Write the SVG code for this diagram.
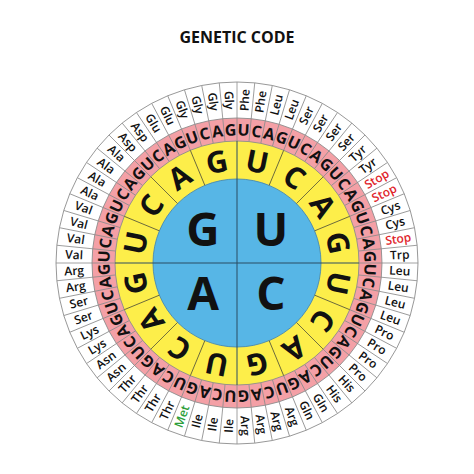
<svg xmlns="http://www.w3.org/2000/svg" xmlns:xlink="http://www.w3.org/1999/xlink" width="474" height="474" viewBox="0 0 474 474">
<style>
.title{font:700 16px "Open Sans","DejaVu Sans",sans-serif;text-anchor:middle;fill:#111}
.w{font:600 12px "Open Sans","DejaVu Sans",sans-serif;text-anchor:middle;fill:#111}
.p{font:700 16px "Open Sans","DejaVu Sans",sans-serif;text-anchor:middle;fill:#111}
.y{font:700 30px "Open Sans","DejaVu Sans",sans-serif;text-anchor:middle;fill:#111}
.b{font:700 46px "Open Sans","DejaVu Sans",sans-serif;text-anchor:middle;fill:#111}
.stop{fill:#e0252b}
.met{fill:#2e9e3a}
.ring{stroke:#8c8c8c;stroke-width:0.9}
.div{stroke:#8c8c8c;stroke-width:0.8}
.ydiv{stroke:#5a5a3a;stroke-width:0.8}
.cross{stroke:#2b4d63;stroke-width:1}
</style>
<defs>
<line id="d" class="div" x1="237" y1="82" x2="237" y2="141"/>
<line id="yd" class="ydiv" x1="237" y1="141" x2="237" y2="179"/>
</defs>
<rect width="474" height="474" fill="#fff"/>
<text class="title" x="237" y="43">GENETIC CODE</text>

<g id="rings">
<circle cx="237" cy="263" r="181" fill="#fff" class="ring"/>
<circle cx="237" cy="263" r="145" fill="#f4a0a6" class="ring"/>
<circle cx="237" cy="263" r="122" fill="#fdee4a" class="ring"/>
<circle cx="237" cy="263" r="84" fill="#57b6e6" stroke="#4a8ab0" stroke-width="0.9"/>
</g>

<g id="connectors">
<use xlink:href="#d" transform="rotate(0 237 263)"/>
<use xlink:href="#d" transform="rotate(5.625 237 263)"/>
<use xlink:href="#d" transform="rotate(11.25 237 263)"/>
<use xlink:href="#d" transform="rotate(16.875 237 263)"/>
<use xlink:href="#d" transform="rotate(22.5 237 263)"/>
<use xlink:href="#d" transform="rotate(28.125 237 263)"/>
<use xlink:href="#d" transform="rotate(33.75 237 263)"/>
<use xlink:href="#d" transform="rotate(39.375 237 263)"/>
<use xlink:href="#d" transform="rotate(45 237 263)"/>
<use xlink:href="#d" transform="rotate(50.625 237 263)"/>
<use xlink:href="#d" transform="rotate(56.25 237 263)"/>
<use xlink:href="#d" transform="rotate(61.875 237 263)"/>
<use xlink:href="#d" transform="rotate(67.5 237 263)"/>
<use xlink:href="#d" transform="rotate(73.125 237 263)"/>
<use xlink:href="#d" transform="rotate(78.75 237 263)"/>
<use xlink:href="#d" transform="rotate(84.375 237 263)"/>
<use xlink:href="#d" transform="rotate(90 237 263)"/>
<use xlink:href="#d" transform="rotate(95.625 237 263)"/>
<use xlink:href="#d" transform="rotate(101.25 237 263)"/>
<use xlink:href="#d" transform="rotate(106.875 237 263)"/>
<use xlink:href="#d" transform="rotate(112.5 237 263)"/>
<use xlink:href="#d" transform="rotate(118.125 237 263)"/>
<use xlink:href="#d" transform="rotate(123.75 237 263)"/>
<use xlink:href="#d" transform="rotate(129.375 237 263)"/>
<use xlink:href="#d" transform="rotate(135 237 263)"/>
<use xlink:href="#d" transform="rotate(140.625 237 263)"/>
<use xlink:href="#d" transform="rotate(146.25 237 263)"/>
<use xlink:href="#d" transform="rotate(151.875 237 263)"/>
<use xlink:href="#d" transform="rotate(157.5 237 263)"/>
<use xlink:href="#d" transform="rotate(163.125 237 263)"/>
<use xlink:href="#d" transform="rotate(168.75 237 263)"/>
<use xlink:href="#d" transform="rotate(174.375 237 263)"/>
<use xlink:href="#d" transform="rotate(180 237 263)"/>
<use xlink:href="#d" transform="rotate(185.625 237 263)"/>
<use xlink:href="#d" transform="rotate(191.25 237 263)"/>
<use xlink:href="#d" transform="rotate(196.875 237 263)"/>
<use xlink:href="#d" transform="rotate(202.5 237 263)"/>
<use xlink:href="#d" transform="rotate(208.125 237 263)"/>
<use xlink:href="#d" transform="rotate(213.75 237 263)"/>
<use xlink:href="#d" transform="rotate(219.375 237 263)"/>
<use xlink:href="#d" transform="rotate(225 237 263)"/>
<use xlink:href="#d" transform="rotate(230.625 237 263)"/>
<use xlink:href="#d" transform="rotate(236.25 237 263)"/>
<use xlink:href="#d" transform="rotate(241.875 237 263)"/>
<use xlink:href="#d" transform="rotate(247.5 237 263)"/>
<use xlink:href="#d" transform="rotate(253.125 237 263)"/>
<use xlink:href="#d" transform="rotate(258.75 237 263)"/>
<use xlink:href="#d" transform="rotate(264.375 237 263)"/>
<use xlink:href="#d" transform="rotate(270 237 263)"/>
<use xlink:href="#d" transform="rotate(275.625 237 263)"/>
<use xlink:href="#d" transform="rotate(281.25 237 263)"/>
<use xlink:href="#d" transform="rotate(286.875 237 263)"/>
<use xlink:href="#d" transform="rotate(292.5 237 263)"/>
<use xlink:href="#d" transform="rotate(298.125 237 263)"/>
<use xlink:href="#d" transform="rotate(303.75 237 263)"/>
<use xlink:href="#d" transform="rotate(309.375 237 263)"/>
<use xlink:href="#d" transform="rotate(315 237 263)"/>
<use xlink:href="#d" transform="rotate(320.625 237 263)"/>
<use xlink:href="#d" transform="rotate(326.25 237 263)"/>
<use xlink:href="#d" transform="rotate(331.875 237 263)"/>
<use xlink:href="#d" transform="rotate(337.5 237 263)"/>
<use xlink:href="#d" transform="rotate(343.125 237 263)"/>
<use xlink:href="#d" transform="rotate(348.75 237 263)"/>
<use xlink:href="#d" transform="rotate(354.375 237 263)"/>
<use xlink:href="#yd" transform="rotate(22.5 237 263)"/>
<use xlink:href="#yd" transform="rotate(45 237 263)"/>
<use xlink:href="#yd" transform="rotate(67.5 237 263)"/>
<use xlink:href="#yd" transform="rotate(112.5 237 263)"/>
<use xlink:href="#yd" transform="rotate(135 237 263)"/>
<use xlink:href="#yd" transform="rotate(157.5 237 263)"/>
<use xlink:href="#yd" transform="rotate(202.5 237 263)"/>
<use xlink:href="#yd" transform="rotate(225 237 263)"/>
<use xlink:href="#yd" transform="rotate(247.5 237 263)"/>
<use xlink:href="#yd" transform="rotate(292.5 237 263)"/>
<use xlink:href="#yd" transform="rotate(315 237 263)"/>
<use xlink:href="#yd" transform="rotate(337.5 237 263)"/>
<line class="cross" x1="237" y1="141" x2="237" y2="385"/>
<line class="cross" x1="115" y1="263" x2="359" y2="263"/>
</g>

<g id="center">
<text class="b" x="203" y="246">G</text>
<text class="b" x="271" y="246">U</text>
<text class="b" x="203" y="310">A</text>
<text class="b" x="271" y="310">C</text>
</g>

<g id="second-base">
<text class="y" x="237" y="170.5" transform="rotate(11.25 237 263)">U</text>
<text class="y" x="237" y="170.5" transform="rotate(33.75 237 263)">C</text>
<text class="y" x="237" y="170.5" transform="rotate(56.25 237 263)">A</text>
<text class="y" x="237" y="170.5" transform="rotate(78.75 237 263)">G</text>
<text class="y" x="237" y="170.5" transform="rotate(101.25 237 263)">U</text>
<text class="y" x="237" y="170.5" transform="rotate(123.75 237 263)">C</text>
<text class="y" x="237" y="170.5" transform="rotate(146.25 237 263)">A</text>
<text class="y" x="237" y="170.5" transform="rotate(168.75 237 263)">G</text>
<text class="y" x="237" y="170.5" transform="rotate(191.25 237 263)">U</text>
<text class="y" x="237" y="170.5" transform="rotate(213.75 237 263)">C</text>
<text class="y" x="237" y="170.5" transform="rotate(236.25 237 263)">A</text>
<text class="y" x="237" y="170.5" transform="rotate(258.75 237 263)">G</text>
<text class="y" x="237" y="170.5" transform="rotate(281.25 237 263)">U</text>
<text class="y" x="237" y="170.5" transform="rotate(303.75 237 263)">C</text>
<text class="y" x="237" y="170.5" transform="rotate(326.25 237 263)">A</text>
<text class="y" x="237" y="170.5" transform="rotate(348.75 237 263)">G</text>
</g>

<g id="third-base">
<text class="p" x="237" y="135.5" transform="rotate(2.8125 237 263)">U</text>
<text class="p" x="237" y="135.5" transform="rotate(8.4375 237 263)">C</text>
<text class="p" x="237" y="135.5" transform="rotate(14.0625 237 263)">A</text>
<text class="p" x="237" y="135.5" transform="rotate(19.6875 237 263)">G</text>
<text class="p" x="237" y="135.5" transform="rotate(25.3125 237 263)">U</text>
<text class="p" x="237" y="135.5" transform="rotate(30.9375 237 263)">C</text>
<text class="p" x="237" y="135.5" transform="rotate(36.5625 237 263)">A</text>
<text class="p" x="237" y="135.5" transform="rotate(42.1875 237 263)">G</text>
<text class="p" x="237" y="135.5" transform="rotate(47.8125 237 263)">U</text>
<text class="p" x="237" y="135.5" transform="rotate(53.4375 237 263)">C</text>
<text class="p" x="237" y="135.5" transform="rotate(59.0625 237 263)">A</text>
<text class="p" x="237" y="135.5" transform="rotate(64.6875 237 263)">G</text>
<text class="p" x="237" y="135.5" transform="rotate(70.3125 237 263)">U</text>
<text class="p" x="237" y="135.5" transform="rotate(75.9375 237 263)">C</text>
<text class="p" x="237" y="135.5" transform="rotate(81.5625 237 263)">A</text>
<text class="p" x="237" y="135.5" transform="rotate(87.1875 237 263)">G</text>
<text class="p" x="237" y="135.5" transform="rotate(92.8125 237 263)">U</text>
<text class="p" x="237" y="135.5" transform="rotate(98.4375 237 263)">C</text>
<text class="p" x="237" y="135.5" transform="rotate(104.0625 237 263)">A</text>
<text class="p" x="237" y="135.5" transform="rotate(109.6875 237 263)">G</text>
<text class="p" x="237" y="135.5" transform="rotate(115.3125 237 263)">U</text>
<text class="p" x="237" y="135.5" transform="rotate(120.9375 237 263)">C</text>
<text class="p" x="237" y="135.5" transform="rotate(126.5625 237 263)">A</text>
<text class="p" x="237" y="135.5" transform="rotate(132.1875 237 263)">G</text>
<text class="p" x="237" y="135.5" transform="rotate(137.8125 237 263)">U</text>
<text class="p" x="237" y="135.5" transform="rotate(143.4375 237 263)">C</text>
<text class="p" x="237" y="135.5" transform="rotate(149.0625 237 263)">A</text>
<text class="p" x="237" y="135.5" transform="rotate(154.6875 237 263)">G</text>
<text class="p" x="237" y="135.5" transform="rotate(160.3125 237 263)">U</text>
<text class="p" x="237" y="135.5" transform="rotate(165.9375 237 263)">C</text>
<text class="p" x="237" y="135.5" transform="rotate(171.5625 237 263)">A</text>
<text class="p" x="237" y="135.5" transform="rotate(177.1875 237 263)">G</text>
<text class="p" x="237" y="135.5" transform="rotate(182.8125 237 263)">U</text>
<text class="p" x="237" y="135.5" transform="rotate(188.4375 237 263)">C</text>
<text class="p" x="237" y="135.5" transform="rotate(194.0625 237 263)">A</text>
<text class="p" x="237" y="135.5" transform="rotate(199.6875 237 263)">G</text>
<text class="p" x="237" y="135.5" transform="rotate(205.3125 237 263)">U</text>
<text class="p" x="237" y="135.5" transform="rotate(210.9375 237 263)">C</text>
<text class="p" x="237" y="135.5" transform="rotate(216.5625 237 263)">A</text>
<text class="p" x="237" y="135.5" transform="rotate(222.1875 237 263)">G</text>
<text class="p" x="237" y="135.5" transform="rotate(227.8125 237 263)">U</text>
<text class="p" x="237" y="135.5" transform="rotate(233.4375 237 263)">C</text>
<text class="p" x="237" y="135.5" transform="rotate(239.0625 237 263)">A</text>
<text class="p" x="237" y="135.5" transform="rotate(244.6875 237 263)">G</text>
<text class="p" x="237" y="135.5" transform="rotate(250.3125 237 263)">U</text>
<text class="p" x="237" y="135.5" transform="rotate(255.9375 237 263)">C</text>
<text class="p" x="237" y="135.5" transform="rotate(261.5625 237 263)">A</text>
<text class="p" x="237" y="135.5" transform="rotate(267.1875 237 263)">G</text>
<text class="p" x="237" y="135.5" transform="rotate(272.8125 237 263)">U</text>
<text class="p" x="237" y="135.5" transform="rotate(278.4375 237 263)">C</text>
<text class="p" x="237" y="135.5" transform="rotate(284.0625 237 263)">A</text>
<text class="p" x="237" y="135.5" transform="rotate(289.6875 237 263)">G</text>
<text class="p" x="237" y="135.5" transform="rotate(295.3125 237 263)">U</text>
<text class="p" x="237" y="135.5" transform="rotate(300.9375 237 263)">C</text>
<text class="p" x="237" y="135.5" transform="rotate(306.5625 237 263)">A</text>
<text class="p" x="237" y="135.5" transform="rotate(312.1875 237 263)">G</text>
<text class="p" x="237" y="135.5" transform="rotate(317.8125 237 263)">U</text>
<text class="p" x="237" y="135.5" transform="rotate(323.4375 237 263)">C</text>
<text class="p" x="237" y="135.5" transform="rotate(329.0625 237 263)">A</text>
<text class="p" x="237" y="135.5" transform="rotate(334.6875 237 263)">G</text>
<text class="p" x="237" y="135.5" transform="rotate(340.3125 237 263)">U</text>
<text class="p" x="237" y="135.5" transform="rotate(345.9375 237 263)">C</text>
<text class="p" x="237" y="135.5" transform="rotate(351.5625 237 263)">A</text>
<text class="p" x="237" y="135.5" transform="rotate(357.1875 237 263)">G</text>
</g>

<g id="amino-acids">
<text class="w" x="400" y="267" transform="rotate(-87.1875 237 263)">Phe</text>
<text class="w" x="400" y="267" transform="rotate(-81.5625 237 263)">Phe</text>
<text class="w" x="400" y="267" transform="rotate(-75.9375 237 263)">Leu</text>
<text class="w" x="400" y="267" transform="rotate(-70.3125 237 263)">Leu</text>
<text class="w" x="400" y="267" transform="rotate(-64.6875 237 263)">Ser</text>
<text class="w" x="400" y="267" transform="rotate(-59.0625 237 263)">Ser</text>
<text class="w" x="400" y="267" transform="rotate(-53.4375 237 263)">Ser</text>
<text class="w" x="400" y="267" transform="rotate(-47.8125 237 263)">Ser</text>
<text class="w" x="400" y="267" transform="rotate(-42.1875 237 263)">Tyr</text>
<text class="w" x="400" y="267" transform="rotate(-36.5625 237 263)">Tyr</text>
<text class="w stop" x="400" y="267" transform="rotate(-30.9375 237 263)">Stop</text>
<text class="w stop" x="400" y="267" transform="rotate(-25.3125 237 263)">Stop</text>
<text class="w" x="400" y="267" transform="rotate(-19.6875 237 263)">Cys</text>
<text class="w" x="400" y="267" transform="rotate(-14.0625 237 263)">Cys</text>
<text class="w stop" x="400" y="267" transform="rotate(-8.4375 237 263)">Stop</text>
<text class="w" x="400" y="267" transform="rotate(-2.8125 237 263)">Trp</text>
<text class="w" x="400" y="267" transform="rotate(2.8125 237 263)">Leu</text>
<text class="w" x="400" y="267" transform="rotate(8.4375 237 263)">Leu</text>
<text class="w" x="400" y="267" transform="rotate(14.0625 237 263)">Leu</text>
<text class="w" x="400" y="267" transform="rotate(19.6875 237 263)">Leu</text>
<text class="w" x="400" y="267" transform="rotate(25.3125 237 263)">Pro</text>
<text class="w" x="400" y="267" transform="rotate(30.9375 237 263)">Pro</text>
<text class="w" x="400" y="267" transform="rotate(36.5625 237 263)">Pro</text>
<text class="w" x="400" y="267" transform="rotate(42.1875 237 263)">Pro</text>
<text class="w" x="400" y="267" transform="rotate(47.8125 237 263)">His</text>
<text class="w" x="400" y="267" transform="rotate(53.4375 237 263)">His</text>
<text class="w" x="400" y="267" transform="rotate(59.0625 237 263)">Gln</text>
<text class="w" x="400" y="267" transform="rotate(64.6875 237 263)">Gln</text>
<text class="w" x="400" y="267" transform="rotate(70.3125 237 263)">Arg</text>
<text class="w" x="400" y="267" transform="rotate(75.9375 237 263)">Arg</text>
<text class="w" x="400" y="267" transform="rotate(81.5625 237 263)">Arg</text>
<text class="w" x="400" y="267" transform="rotate(87.1875 237 263)">Arg</text>
<text class="w" x="74" y="267" transform="rotate(-87.1875 237 263)">Ile</text>
<text class="w" x="74" y="267" transform="rotate(-81.5625 237 263)">Ile</text>
<text class="w" x="74" y="267" transform="rotate(-75.9375 237 263)">Ile</text>
<text class="w met" x="74" y="267" transform="rotate(-70.3125 237 263)">Met</text>
<text class="w" x="74" y="267" transform="rotate(-64.6875 237 263)">Thr</text>
<text class="w" x="74" y="267" transform="rotate(-59.0625 237 263)">Thr</text>
<text class="w" x="74" y="267" transform="rotate(-53.4375 237 263)">Thr</text>
<text class="w" x="74" y="267" transform="rotate(-47.8125 237 263)">Thr</text>
<text class="w" x="74" y="267" transform="rotate(-42.1875 237 263)">Asn</text>
<text class="w" x="74" y="267" transform="rotate(-36.5625 237 263)">Asn</text>
<text class="w" x="74" y="267" transform="rotate(-30.9375 237 263)">Lys</text>
<text class="w" x="74" y="267" transform="rotate(-25.3125 237 263)">Lys</text>
<text class="w" x="74" y="267" transform="rotate(-19.6875 237 263)">Ser</text>
<text class="w" x="74" y="267" transform="rotate(-14.0625 237 263)">Ser</text>
<text class="w" x="74" y="267" transform="rotate(-8.4375 237 263)">Arg</text>
<text class="w" x="74" y="267" transform="rotate(-2.8125 237 263)">Arg</text>
<text class="w" x="74" y="267" transform="rotate(2.8125 237 263)">Val</text>
<text class="w" x="74" y="267" transform="rotate(8.4375 237 263)">Val</text>
<text class="w" x="74" y="267" transform="rotate(14.0625 237 263)">Val</text>
<text class="w" x="74" y="267" transform="rotate(19.6875 237 263)">Val</text>
<text class="w" x="74" y="267" transform="rotate(25.3125 237 263)">Ala</text>
<text class="w" x="74" y="267" transform="rotate(30.9375 237 263)">Ala</text>
<text class="w" x="74" y="267" transform="rotate(36.5625 237 263)">Ala</text>
<text class="w" x="74" y="267" transform="rotate(42.1875 237 263)">Ala</text>
<text class="w" x="74" y="267" transform="rotate(47.8125 237 263)">Asp</text>
<text class="w" x="74" y="267" transform="rotate(53.4375 237 263)">Asp</text>
<text class="w" x="74" y="267" transform="rotate(59.0625 237 263)">Glu</text>
<text class="w" x="74" y="267" transform="rotate(64.6875 237 263)">Glu</text>
<text class="w" x="74" y="267" transform="rotate(70.3125 237 263)">Gly</text>
<text class="w" x="74" y="267" transform="rotate(75.9375 237 263)">Gly</text>
<text class="w" x="74" y="267" transform="rotate(81.5625 237 263)">Gly</text>
<text class="w" x="74" y="267" transform="rotate(87.1875 237 263)">Gly</text>
</g>
</svg>
